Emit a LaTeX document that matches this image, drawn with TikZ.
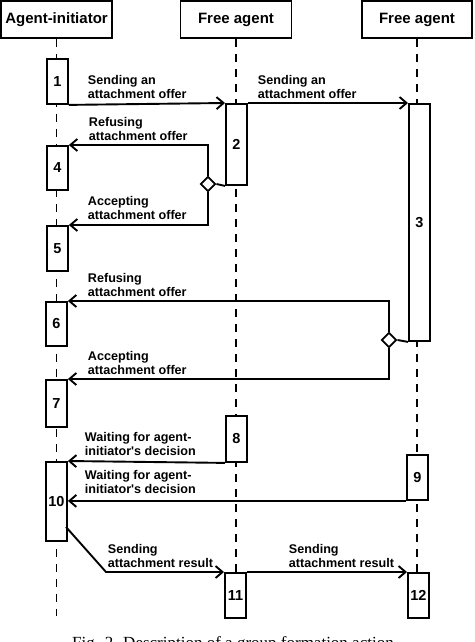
\documentclass[tikz,border=0pt]{standalone}
\usepackage{fontspec}
\setmainfont{Liberation Sans}
\newfontfamily\capfont{Liberation Serif}
\usetikzlibrary{shapes.geometric,arrows.meta,positioning}

\begin{document}
\begin{tikzpicture}[
  x=1pt, y=-1pt,
  line width=1.9pt,
  font=\bfseries\fontsize{12.6}{14.5}\selectfont,
  head/.style={draw, minimum height=37pt, inner sep=0pt, font=\bfseries\fontsize{15}{17}\selectfont},
  act/.style={draw, fill=white, minimum width=21pt, inner sep=0pt, anchor=north west,
              font=\bfseries\fontsize{14.5}{16}\selectfont},
  choice/.style={draw, diamond, fill=white, minimum size=15pt, inner sep=0pt},
  life/.style={dash pattern=on 8pt off 7pt},
  msg/.style={-{Straight Barb[length=7pt, width=12pt]}},
  lbl/.style={anchor=south west, inner sep=0pt, align=left},
]
\useasboundingbox (0,0) rectangle (474,642);

%% ---------- lifeline heads ----------
\node[head, minimum width=111pt] (init) at (56.5,19.5) {Agent-initiator};
\node[head, minimum width=111pt] (freeA) at (236,19.5) {Free agent};
\node[head, minimum width=110pt] (freeB) at (417,19.5) {Free agent};

\coordinate (endI) at (56.5,616);
\coordinate (endA) at (236,600);
\coordinate (endB) at (417,600);
\draw[life] (init.south) -- (endI);
\draw[life] (freeA.south) -- (endA);
\draw[life] (freeB.south) -- (endB);

%% ---------- activations ----------
\node[act, minimum height=45pt] (b1) at (46,58) {1};
\node[act, minimum height=81pt] (b2) at (225,103) {2};
\node[act, minimum height=237pt] (b3) at (408,103) {3};
\node[act, minimum height=44pt] (b4) at (46,145) {4};
\node[act, minimum height=45pt] (b5) at (46,225) {5};
\node[act, minimum height=44pt] (b6) at (45,301) {6};
\node[act, minimum height=47pt] (b7) at (45,379) {7};
\node[act, minimum height=46pt] (b8) at (225,415) {8};
\node[act, minimum height=45pt] (b9) at (406,454) {9};
\node[act, minimum height=79pt] (b10) at (45,461) {10};
\node[act, minimum height=45pt] (b11) at (224,572) {11};
\node[act, minimum height=45pt] (b12) at (407,572) {12};

\node[choice] (d1) at (208,184) {};
\node[choice] (d2) at (389,340) {};

%% ---------- messages ----------
\draw[msg] (b1.south east) -- (b2.north west);
\draw[msg] (b2.north east) -- (b3.north west);

\draw (b2.south west) -- (d1.east);
\draw[msg] (d1.north) |- (b4.north east);
\draw[msg] (d1.south) |- (b5.north east);

\draw (b3.south west) -- (d2.east);
\draw[msg] (d2.north) |- (b6.north east);
\draw[msg] (d2.south) |- (b7.north east);

\draw[msg] (b8.south west) -- (b10.north east);
\draw[msg] (b9.south west) -- (b9.south west -| b10.east);

\coordinate (res0) at (66,527);
\coordinate (res1) at (106,572);
\draw[msg] (res0) -- (res1) -- (b11.north west);
\draw[msg] (b11.north east) -- (b12.north west);

%% ---------- labels ----------
\node[lbl] (l1) at (87,100) {Sending an\\attachment offer};
\node[lbl] (l2) at (257,100) {Sending an\\attachment offer};
\node[lbl] (l3) at (88,142) {Refusing\\attachment offer};
\node[lbl] (l4) at (87,221) {Accepting\\attachment offer};
\node[lbl] (l5) at (87,298) {Refusing\\attachment offer};
\node[lbl] (l6) at (87,376) {Accepting\\attachment offer};
\node[lbl] (l7) at (84,457) {Waiting for agent-\\initiator\textquotesingle s decision};
\node[lbl] (l8) at (84,495) {Waiting for agent-\\initiator\textquotesingle s decision};
\node[lbl] (l9) at (107,569) {Sending\\attachment result};
\node[lbl] (l10) at (288,569) {Sending\\attachment result};

% caption, cut by the page edge as in the scan
\node[anchor=base, inner sep=0pt, font=\capfont\fontsize{17}{19}\selectfont] (cap) at (233,648)
  {Fig. 2. Description of a group formation action};
\end{tikzpicture}
\end{document}
